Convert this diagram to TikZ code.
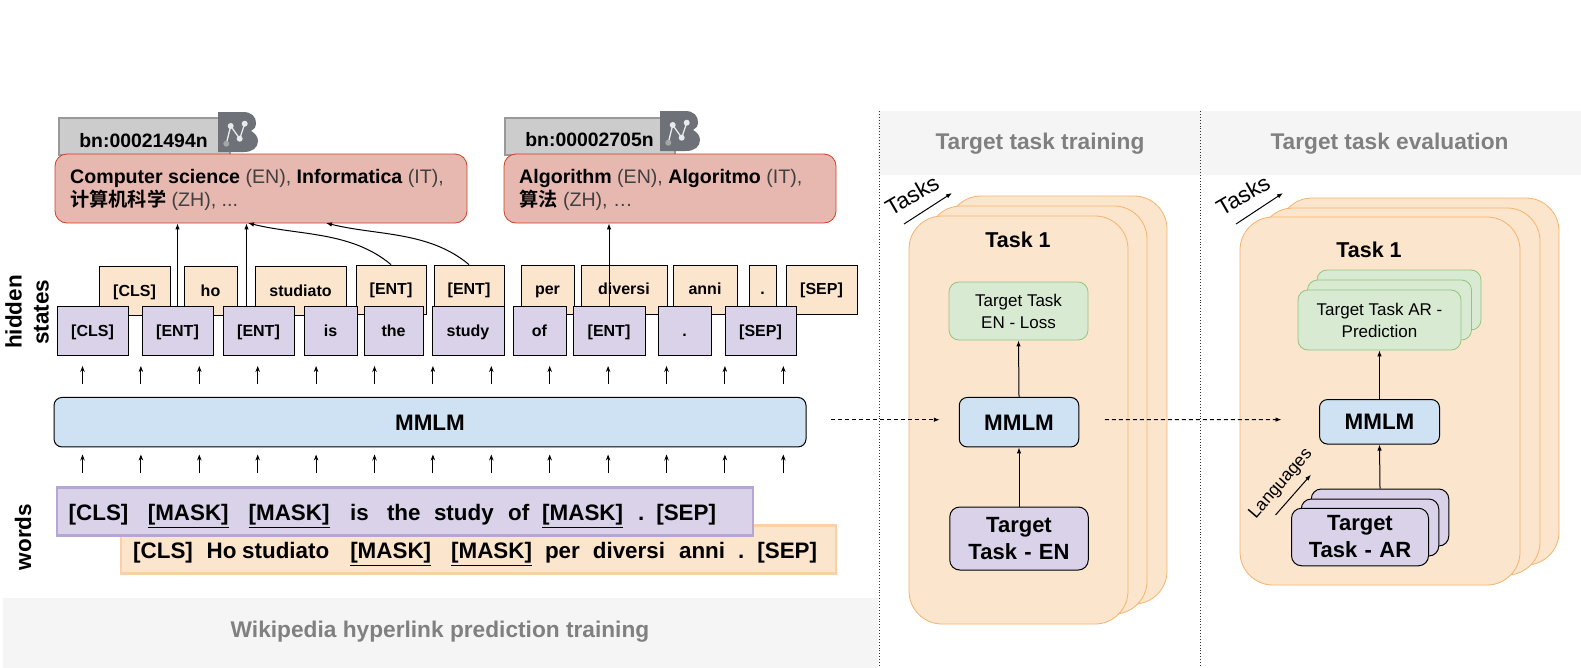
\documentclass[tikz,border=0pt]{standalone}
\usepackage{fontspec}
\setmainfont{Liberation Sans}
\newfontfamily\cjk[BoldFont={Noto Sans CJK SC Bold}]{Noto Sans CJK SC}
\usetikzlibrary{positioning,arrows.meta,calc}

\definecolor{wordpurple}{HTML}{D9D2E9}
\definecolor{edgepurple}{HTML}{B4A7D6}
\definecolor{wordorange}{HTML}{FCE5CD}
\definecolor{edgeorange}{HTML}{F6B26B}
\definecolor{synsetred}{HTML}{E6B8AF}
\definecolor{edgered}{HTML}{CC4125}
\definecolor{modelblue}{HTML}{CFE2F3}
\definecolor{lossgreen}{HTML}{D9EAD3}
\definecolor{edgegreen}{HTML}{93C47D}
\definecolor{bandgray}{HTML}{F5F5F5}
\definecolor{logogray}{HTML}{6F7179}

\newcommand{\fsize}[2]{\fontsize{#1}{#2}\selectfont}
\newcommand{\masktok}{\vtop{\hbox{[MASK]}\kern 2pt\hrule height 1.6pt}}
\newcommand{\wgap}[1]{\hspace{#1pt}}

\begin{document}
\begin{tikzpicture}[
  x=1pt, y=-1pt,
  >={Latex[length=6pt,width=4.5pt]},
  box/.style={draw, inner sep=0pt, line width=.8pt, align=center},
  token/.style={box, font=\fsize{16}{19}\bfseries, minimum height=49pt, text height=12pt, text depth=2pt},
  hiddenit/.style={token, fill=wordorange},
  hiddenen/.style={token, fill=wordpurple},
  synset/.style={draw=edgered, fill=synsetred, rounded corners=12pt, line width=.8pt, minimum width=#1, minimum height=69pt, inner sep=0pt},
  synsettxt/.style={anchor=base west, inner sep=0pt, align=left, font=\fsize{19.6}{23.5}},
  bnid/.style={draw=black!40, fill=black!20, line width=1.4pt, minimum height=37pt, inner sep=0pt},
  sentence/.style={line width=2.4pt, inner sep=0pt, minimum height=48pt},
  wordtxt/.style={anchor=base west, inner sep=0pt, font=\fsize{22.4}{27}\bfseries},
  model/.style={box, rounded corners=8pt, fill=modelblue, line width=1pt, font=\fsize{22.4}{27}\bfseries, text height=16pt, text depth=0pt},
  input/.style={box, rounded corners=10pt, fill=wordpurple, line width=1pt, font=\fsize{22}{27}\bfseries, text width=130pt},
  card/.style={draw=edgeorange, fill=wordorange, rounded corners=33pt, line width=.8pt, inner sep=0pt},
  head/.style={draw=edgegreen, fill=lossgreen, rounded corners=10pt, line width=.8pt, inner sep=0pt, font=\fsize{17}{22}},
  band/.style={fill=bandgray, inner sep=0pt},
  bandtxt/.style={text=black!50, font=\fsize{22.7}{27}\bfseries, inner sep=0pt},
  sidetxt/.style={rotate=90, font=\fsize{22.5}{27}\bfseries, inner sep=0pt, align=center},
  tasktxt/.style={font=\fsize{21.5}{27}\bfseries, inner sep=0pt},
  axistxt/.style={font=\fsize{22.5}{27}, inner sep=0pt},
  link/.style={->, line width=1pt},
  tick/.style={->, line width=.9pt, >={Stealth[length=6pt,width=4.5pt]}},
  flow/.style={->, dashed, line width=.9pt, dash pattern=on 4pt off 3pt},
  boundary/.style={dotted, line width=.9pt, black!80},
  bnlogo/.pic={
    \fill[logogray] (0,0) -- (25,0) .. controls (34,0) and (38,5) .. (38,11)
      .. controls (38,15) and (36,18) .. (33,19) .. controls (37,21) and (40,25) .. (40,29)
      .. controls (40,36) and (34,40) .. (26,40) -- (0,40) -- cycle;
    \draw[white!85!logogray, line width=1.3pt] (8.3,31.7) -- (12.7,14) -- (21.7,26.7) -- (26.7,11.7);
    \fill[white!85!logogray] (12.7,14) circle (3) (21.7,26.7) circle (3) (26.7,11.7) circle (3);
    \fill[black!35] (8.3,31.7) circle (3);
  },
]
\useasboundingbox (0,0) rectangle (1581,667);

% Section bands
\node[band, minimum width=703pt, minimum height=64pt] (bandtop) at (1229.5,143) {};
\node[band, minimum width=875pt, minimum height=70pt] (bandwiki) at (440.5,632.5) {};
\node[bandtxt] (titletrain) at (1040,143.5) {Target task training};
\node[bandtxt] (titleeval) at (1389.5,143.5) {Target task evaluation};
\node[bandtxt] (titlewiki) at (440,632) {Wikipedia hyperlink prediction training};

% Section boundaries
\coordinate (splitatop) at (879,111);
\coordinate (splitabot) at (879,666);
\coordinate (splitbtop) at (1200,111);
\coordinate (splitbbot) at (1200,666);
\draw[boundary] (splitatop) -- (splitabot);
\draw[boundary] (splitbtop) -- (splitbbot);

% Synsets
\node[bnid, minimum width=171pt] (bnida) at (144.5,136.5) {};
\node[font=\fsize{19.4}{24}\bfseries, inner sep=0pt] (bnidatxt) at (143.5,141) {bn:00021494n};
\pic at (218,112) {bnlogo};
\node[synset=412pt] (syna) at (261,188.5) {};
\node[synsettxt] (synatxt) at (70,206.5) {\textbf{Computer science} {\color{black!75}(EN),} \textbf{Informatica} {\color{black!75}(IT),}\\{\fsize{19.2}{23.5}\cjk\bfseries 计算机科学} {\color{black!75}(ZH), ...}};

\node[bnid, minimum width=170pt] (bnidb) at (590,136.5) {};
\node[font=\fsize{19.4}{24}\bfseries, inner sep=0pt] (bnidbtxt) at (589.5,140) {bn:00002705n};
\pic at (660,111) {bnlogo};
\node[synset=332pt] (synb) at (670,188.5) {};
\node[synsettxt] (synbtxt) at (519,206.5) {\textbf{Algorithm} {\color{black!75}(EN),} \textbf{Algoritmo} {\color{black!75}(IT),}\\{\fsize{19.2}{23.5}\cjk\bfseries 算法} {\color{black!75}(ZH), …}};

% Hidden states, italian sentence
\foreach \nm/\xa/\xb/\yc/\txt in {itcls/99/170/291/[CLS], itho/184/237/291/ho, itstud/255/346/291/studiato, itenta/356/426/289.5/[ENT], itentb/434/504/289.5/[ENT], itper/521/574/289.5/per, itdiv/581/667/289.5/diversi, itanni/673/737/289.5/anni, itdot/749/776/289.5/., itsep/786/857/289.5/[SEP]}
  \node[hiddenit, minimum width={(\xb-\xa)*1pt}] (\nm) at ({(\xa+\xb)/2},\yc) {\txt};

% Hidden states, english sentence
\foreach \nm/\xa/\xb/\txt in {encls/57/128/[CLS], enenta/142/213/[ENT], enentb/223/294/[ENT], enis/304/357/is, enthe/364/423/the, enstudy/432/504/study, enof/513/566/of, enentc/573/645/[ENT], endot/658/711/., ensep/725/796/[SEP]}
  \node[hiddenen, minimum width={(\xb-\xa)*1pt}] (\nm) at ({(\xa+\xb)/2},331) {\txt};

% Hyperlinks to synsets
\coordinate (synain) at (248,223);
\coordinate (synaout) at (326,223);
\draw[link] (enenta.north) -- (enenta.north |- syna.south);
\draw[link] ([xshift=-12pt]enentb.north) -- ([xshift=-12pt]enentb.north |- syna.south);
\draw[link] (itenta.north) to[out=140,in=-14,looseness=.9] (synain);
\draw[link] (itentb.north) to[out=140,in=-14,looseness=.9] (synaout);
\draw[link] (enentc.north) -- (enentc.north |- synb.south);

% MMLM, multi-language
\node[model, minimum width=752pt, minimum height=49.5pt] (mmlm) at (430,422.2) {MMLM};

% Ticks above and below MMLM
\foreach \i in {0,...,12} {
  \pgfmathsetmacro{\tx}{82.5+58.4*\i}
  \coordinate (upa\i) at (\tx,384);
  \coordinate (upb\i) at (\tx,366);
  \coordinate (loa\i) at (\tx,473);
  \coordinate (lob\i) at (\tx,454.5);
  \draw[tick] (upa\i) -- (upb\i);
  \draw[tick] (loa\i) -- (lob\i);
}

% Input sentences
\node[sentence, draw=edgeorange!60, fill=wordorange, minimum width=715pt] (sentit) at (478.5,549.5) {};
\node[sentence, draw=edgepurple, fill=wordpurple, minimum width=696pt] (senten) at (405,511.5) {};
\node[wordtxt] (sententxt) at (68.5,520) {[CLS]\wgap{19.4}\masktok\wgap{20}\masktok\wgap{20.5}is\wgap{18.3}the\wgap{13.4}study\wgap{14.3}of\wgap{13}\masktok\wgap{15}.\wgap{12}[SEP]};
\node[wordtxt] (sentittxt) at (133,558) {[CLS]\wgap{13.8}Ho\wgap{5.6}studiato\wgap{21}\masktok\wgap{20}\masktok\wgap{13}per\wgap{13}diversi\wgap{14}anni\wgap{13}.\wgap{13}[SEP]};

% Side labels
\node[sidetxt] (sidehidden) at (27,312) {hidden\\states};
\node[sidetxt] (sidewords) at (23,537) {words};

% Target task training
\node[card, minimum width=219pt, minimum height=408pt] (traincardc) at (1057.5,400) {};
\node[card, minimum width=219pt, minimum height=408pt] (traincardb) at (1037.5,410) {};
\node[card, minimum width=219pt, minimum height=408pt] (traincarda) at (1018.5,420) {};
\node[tasktxt] (traintitle) at (1018,240) {Task 1};
\node[head, minimum width=139pt, minimum height=58pt, align=center] (trainloss) at (1018.5,311) {Target Task\\EN - Loss};
\node[model, minimum width=119.5pt, minimum height=49.5pt] (trainmmlm) at (1019,422.2) {MMLM};
\node[input, minimum width=138.5pt, minimum height=63pt] (traininput) at (1019,538.5) {Target\\Task - EN};
\draw[link] (traininput.north) -- (trainmmlm.south);
\draw[link] (trainmmlm.north) -- (trainloss.south);

\coordinate (tasksatail) at (904,224);
\coordinate (tasksatip) at (952,193);
\draw[link] (tasksatail) -- (tasksatip);
\node[axistxt, rotate=30] (tasksa) at (912,195) {Tasks};

% Target task evaluation
\node[card, minimum width=280pt, minimum height=367pt] (evalcardc) at (1419,381.5) {};
\node[card, minimum width=280pt, minimum height=367pt] (evalcardb) at (1400,391.5) {};
\node[card, minimum width=280pt, minimum height=368pt] (evalcarda) at (1380,401) {};
\node[tasktxt] (evaltitle) at (1369,250) {Task 1};
\node[head, minimum width=164pt, minimum height=60pt] (evalpredc) at (1399,300) {};
\node[head, minimum width=164pt, minimum height=60pt] (evalpredb) at (1389.5,310) {};
\node[head, minimum width=163pt, minimum height=60pt, align=center] (evalpreda) at (1379.5,320) {Target Task AR -\\Prediction};
\node[model, minimum width=120pt, minimum height=44.5pt] (evalmmlm) at (1379.5,421.8) {MMLM};
\node[input, minimum width=137.5pt, minimum height=57pt] (evalinputc) at (1380,517.5) {};
\node[input, minimum width=137.5pt, minimum height=57pt] (evalinputb) at (1370,527.5) {};
\node[input, minimum width=137pt, minimum height=57.5pt] (evalinputa) at (1360,537) {Target\\Task - AR};
\draw[link] (evalinputc.north) -- (evalmmlm.south);
\draw[link] (evalmmlm.north) -- (evalpreda.south);

\coordinate (tasksbtail) at (1236,224);
\coordinate (tasksbtip) at (1283,193);
\draw[link] (tasksbtail) -- (tasksbtip);
\node[axistxt, rotate=30] (tasksb) at (1243,195) {Tasks};

\coordinate (langtail) at (1275.5,515);
\coordinate (langtip) at (1311,474.6);
\draw[link] (langtail) -- (langtip);
\node[font=\fsize{17.5}{22}, rotate=49, inner sep=0pt] (langs) at (1281,484) {Languages};

% Model hand-over
\draw[flow, shorten <=24.5pt, shorten >=19pt] ([yshift=2.5pt]mmlm.east) -- ([yshift=2.5pt]trainmmlm.west);
\draw[flow, shorten <=25.5pt, shorten >=37.5pt] ([yshift=2.5pt]trainmmlm.east) -- ([yshift=2.2pt]evalmmlm.west);

\end{tikzpicture}
\end{document}
